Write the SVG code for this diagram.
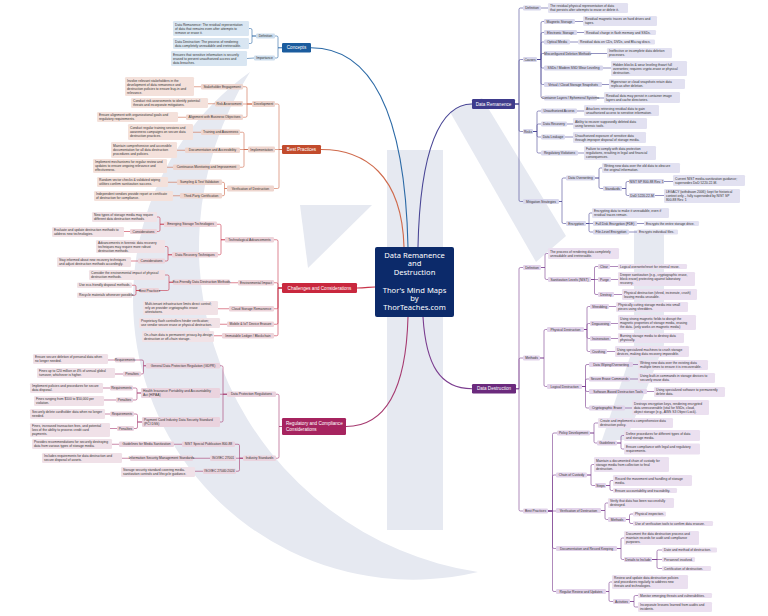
<svg xmlns="http://www.w3.org/2000/svg" width="768" height="616" viewBox="0 0 768 616">
<style>
text{font-family:"Liberation Sans",Arial,sans-serif;font-size:3.3px;fill:#333}
.m{text-anchor:middle}
.w{fill:#fff;font-size:4.6px}
.cen{font-family:"Noto Sans","Open Sans",sans-serif;font-size:7.6px;fill:#fff;text-anchor:middle}
rect{rx:1.2px}
.bl1{fill:#cddded}.bl2{fill:#d9e6f2}
.or1{fill:#eed5ce}.or2{fill:#f4e1db}
.cr1{fill:#edd4da}.cr2{fill:#f1e2e6}
.mg1{fill:#ead3de}.mg2{fill:#f0e1e8}
.pu1{fill:#d8d7ec}.pu2{fill:#e2e1f1}
.vi1{fill:#e2d3ea}.vi2{fill:#ebe0f0}
#connectors path{fill:none;stroke-width:0.6}
.kb{stroke:#2c6aa6}.ko{stroke:#cf6a4c}.kc{stroke:#c8344a}.km{stroke:#a63a70}.kp{stroke:#4a4796}.kv{stroke:#7b3d8f}
.main{stroke-width:1.1!important}
.wm{fill:#e6e9f1}
</style>
<rect x="0" y="0" width="768" height="616" fill="#ffffff" style="rx:0"/>
<g id="watermark">
<path class="wm" d="M250,72 A280,280 0 0 0 478,572 A328,328 0 0 1 250,72 Z"/>
<rect class="wm" x="387" y="150" width="56" height="380" style="rx:0"/>
<polygon class="wm" points="450,112 482,98 566,236 536,262"/>
<polygon class="wm" points="634,230 664,230 664,345 626,440 602,440 634,345"/>
<polygon class="wm" points="300,205 372,205 308,268"/>
</g>
<g id="connectors">
<path class="kb main" d="M408,247 C405,110 370,47.75 311,47.75"/>
<path class="ko main" d="M321,149.5 C365,149.5 402,175 404,247"/>
<path class="kc main" d="M357,288 C365,288 370,287 375,287"/>
<path class="km main" d="M346,426.5 C385,426.5 406,390 408,317"/>
<path class="kp main" d="M418,247 C420,150 440,104 472,104"/>
<path class="kv main" d="M423,317 C426,365 440,388.75 472,388.75"/>
<path class="kb" d="M282,47.75 H278 V37.5 Q278,36 276.5,36 H275 M282,47.75 H278 V56.5 Q278,58 276.5,58 H275 M256,36 H252 V30 Q252,28.5 250.5,28.5 H249 M256,36 H252 V42 Q252,43.5 250.5,43.5 H249 M254,58 L247,58.5"/>
<path class="ko" d="M282,149.5 H279 V105.5 Q279,104 277.5,104 H275 M282,149.5 H275 M282,149.5 H279 V187 Q279,188.5 277.5,188.5 H274 M252,104 H247 V88.25 Q247,86.75 245.5,86.75 H243 M252,104 H243 M252,104 H247 V115.75 Q247,117.25 245.5,117.25 H243 M201,86.75 H194 M215,103.75 H208 M186,117.25 H178 M248,149.5 H244 V133.75 Q244,132.25 242.5,132.25 H240 M248,149.5 H240 M248,149.5 H244 V165.75 Q244,167.25 242.5,167.25 H240 M201,132.25 H193 M185,150.25 H177 M173,167.25 H167 M227,188.5 H224.5 V183.75 Q224.5,182.25 223,182.25 H222 M227,188.5 H224.5 V194.25 Q224.5,195.75 223,195.75 H222 M177,182.25 H168 M180,195.75 H173"/>
<path class="kc" d="M282,288 H278 V241.25 Q278,239.75 276.5,239.75 H274 M282,288 H278 V284.25 Q278,282.75 276.5,282.75 H274 M282,288 H278 V307.25 Q278,308.75 276.5,308.75 H274 M282,288 H278 V322.75 Q278,324.25 276.5,324.25 H274 M282,288 H278 V334.25 Q278,335.75 276.5,335.75 H274 M225,239.75 H221 V225.75 Q221,224.25 219.5,224.25 H217 M225,239.75 H221 V253.25 Q221,254.75 219.5,254.75 H218 M164,224.25 H160 V218.5 Q160,217 158.5,217 H157 M164,224.25 H160 V230 Q160,231.5 158.5,231.5 H157 M130,231.5 H124 M172,254.75 H168 V248 Q168,246.5 166.5,246.5 H165 M172,254.75 H168 V259.5 Q168,261 166.5,261 H165 M138,261 H131 M238,282.75 H230 M173,282.25 H169 V276.5 Q169,275 167.5,275 H165 M173,282.25 H169 V289 Q169,290.5 167.5,290.5 H159 M140,290.5 H136 V286.75 Q136,285.25 134.5,285.25 H132 M140,290.5 H136 V293.75 Q136,295.25 134.5,295.25 H132 M229,308.75 H218 M227,324.25 H220 M222,335.75 H214"/>
<path class="km" d="M282,426.5 H279 V395.75 Q279,394.25 277.5,394.25 H276 M282,426.5 H279 V456.75 Q279,458.25 277.5,458.25 H276 M227,394.25 H223 V367.25 Q223,365.75 221.5,365.75 H220 M227,394.25 H220 M227,394.25 H223 V420.5 Q223,422 221.5,422 H220 M146,365.75 H143.5 V361.5 Q143.5,360 142,360 H135 M146,365.75 H143.5 V372.5 Q143.5,374 142,374 H141 M115,360 H108 M123,374 H115 M141,393 H137 V389.5 Q137,388 135.5,388 H133 M141,393 H137 V398.5 Q137,400 135.5,400 H133 M110,388 H103 M116,400 H104 M142,422 H137.5 V415.5 Q137.5,414 136,414 H134 M142,422 H137.5 V427 Q137.5,428.5 136,428.5 H134 M110,414 H105 M117,428.5 H110 M243,458.25 H239.5 V445.75 Q239.5,444.25 238,444.25 H235 M243,458.25 H236 M243,458.25 H239.5 V469.75 Q239.5,471.25 238,471.25 H236 M182,444.25 H174 M119,444.25 H112 M210,458.25 H193 M130,458.25 H122 M203,471.25 H195"/>
<path class="kp" d="M515,104 H519 V9.5 Q519,8 520.5,8 H523 M515,104 H519 V61 Q519,59.5 520.5,59.5 H523 M515,104 H519 V130 Q519,131.5 520.5,131.5 H523 M515,104 H519 V200 Q519,201.5 520.5,201.5 H523 M541,8 H548 M537,59.5 H541 V23 Q541,21.5 542.5,21.5 H544 M537,59.5 H541 V34 Q541,32.5 542.5,32.5 H544 M537,59.5 H541 V43.5 Q541,42 542.5,42 H544 M537,59.5 H541 V55 Q541,53.5 542.5,53.5 H544 M537,59.5 H541 V66.5 Q541,68 542.5,68 H544 M537,59.5 H541 V83 Q541,84.5 542.5,84.5 H544 M537,59.5 H541 V96.5 Q541,98 542.5,98 H544 M575,21.5 H583 M577,32.5 H584 M570,42 H578 M591,53.5 H607 M603,68 H611 M602,84.5 H609 M597,98 H604 M533,131.5 H537 V112.5 Q537,111 538.5,111 H541 M533,131.5 H537 V125.5 Q537,124 538.5,124 H541 M533,131.5 H537 V135.5 Q537,137 538.5,137 H541 M533,131.5 H537 V151.5 Q537,153 538.5,153 H541 M577,111 H584 M567,124 H573 M565,137 H573 M578,153 H584 M559,201.5 H562 V179.5 Q562,178 563.5,178 H566 M559,201.5 H562 V222 Q562,223.5 563.5,223.5 H566 M595,178 H599 V169.5 Q599,168 600.5,168 H602 M595,178 H599 V187 Q599,188.5 600.5,188.5 H603 M622,188.5 H626 V183 Q626,181.5 627.5,181.5 H629 M622,188.5 H626 V194 Q626,195.5 627.5,195.5 H629 M664,181.5 H673 M655,195.5 H664 M586,223.5 H589 V214.5 Q589,213 590.5,213 H592 M586,223.5 H593 M586,223.5 H589 V230.5 Q589,232 590.5,232 H593 M637,223.5 H644 M629,232 H637"/>
<path class="kv" d="M516,388.75 H519 V269 Q519,267.5 520.5,267.5 H523 M516,388.75 H519 V359.5 Q519,358 520.5,358 H523 M516,388.75 H519 V509.5 Q519,511 520.5,511 H523 M541,267.5 H545 V255 Q545,253.5 546.5,253.5 H548 M541,267.5 H545 V278 Q545,279.5 546.5,279.5 H548 M591,279.5 H594.5 V268 Q594.5,266.5 596,266.5 H598 M591,279.5 H598 M591,279.5 H594.5 V293 Q594.5,294.5 596,294.5 H598 M610,266.5 H618 M611,279.5 H618 M614,294.5 H622 M540,358 H544 V331 Q544,329.5 545.5,329.5 H547 M540,358 H544 V385 Q544,386.5 545.5,386.5 H547 M584,329.5 H587 V308 Q587,306.5 588.5,306.5 H590 M584,329.5 H587 V325 Q587,323.5 588.5,323.5 H590 M584,329.5 H587 V337 Q587,338.5 588.5,338.5 H590 M584,329.5 H587 V350 Q587,351.5 588.5,351.5 H590 M609,306.5 H616 M611,323.5 H618 M611,338.5 H618 M607,351.5 H615 M582,386.5 H585.5 V366 Q585.5,364.5 587,364.5 H589 M582,386.5 H585.5 V380.5 Q585.5,379 587,379 H589 M582,386.5 H585.5 V390 Q585.5,391.5 587,391.5 H589 M582,386.5 H585.5 V406.5 Q585.5,408 587,408 H589 M633,364.5 H638 M630,379 H638 M647,391.5 H654 M625,408 H632 M548,511 H552.5 V434.5 Q552.5,433 554,433 H557 M548,511 H552.5 V476.5 Q552.5,475 554,475 H556 M548,511 H556 M548,511 H552.5 V547 Q552.5,548.5 554,548.5 H556 M548,511 H552.5 V590 Q552.5,591.5 554,591.5 H556 M590,433 H594 V424.5 Q594,423 595.5,423 H598 M590,433 H594 V441.5 Q594,443 595.5,443 H597 M617,443 H621 V437 Q621,435.5 622.5,435.5 H624 M617,443 H621 V447.5 Q621,449 622.5,449 H624 M587,475 H591 V466 Q591,464.5 592.5,464.5 H594 M587,475 H591 V484 Q591,485.5 592.5,485.5 H595 M606,485.5 H610 V482 Q610,480.5 611.5,480.5 H613 M606,485.5 H610 V489 Q610,490.5 611.5,490.5 H613 M601,510.5 H605 V504.5 Q605,503 606.5,503 H608 M601,510.5 H605 V518 Q605,519.5 606.5,519.5 H608 M626,519.5 H629.5 V515.5 Q629.5,514 631,514 H633 M626,519.5 H629.5 V522 Q629.5,523.5 631,523.5 H633 M617,548.5 H621 V539.5 Q621,538 622.5,538 H624 M617,548.5 H621 V558 Q621,559.5 622.5,559.5 H624 M652,559.5 H657 V551.5 Q657,550 658.5,550 H662 M652,559.5 H662 M652,559.5 H657 V567 Q657,568.5 658.5,568.5 H662 M606,591.5 H609 V583.5 Q609,582 610.5,582 H612 M606,591.5 H609 V600 Q609,601.5 610.5,601.5 H613 M630,601.5 H634 V597 Q634,595.5 635.5,595.5 H638 M630,601.5 H634 V605.5 Q634,607 635.5,607 H638"/>
</g>

<g id="center"><rect x="375" y="247" width="79" height="70" fill="#0c2a6a" style="rx:2px"/>
<text class="cen" x="414.5" y="257.5">Data Remanence<tspan x="414.5" dy="8.9">and</tspan><tspan x="414.5" dy="8.9">Destruction</tspan><tspan x="414.5" dy="17.6">Thor's Mind Maps</tspan><tspan x="414.5" dy="8.5">by</tspan><tspan x="414.5" dy="8.5">ThorTeaches.com</tspan></text></g>

<!-- CONCEPTS -->
<g id="concepts"><rect x="282" y="43" width="29" height="9.5" fill="#1b5c9e"/><text class="m w" x="296.5" y="49.35">Concepts</text></g>
<g id="c-definition"><rect class="bl1" x="256" y="33.5" width="19" height="5"/><text class="m" x="265.5" y="37.15">Definition</text></g>
<g id="c-importance"><rect class="bl1" x="254" y="55.5" width="21" height="5"/><text class="m" x="264.5" y="59.15">Importance</text></g>
<g id="c-def-dr"><rect class="bl2" x="173" y="21" width="76" height="15"/><text x="175" y="25.75">Data Remanence: The residual representation<tspan x="175" dy="3.9">of data that remains even after attempts to</tspan><tspan x="175" dy="3.9">remove or erase it.</tspan></text></g>
<g id="c-def-dd"><rect class="bl2" x="173" y="38" width="76" height="11"/><text x="175" y="42.7">Data Destruction: The process of rendering<tspan x="175" dy="3.9">data completely unreadable and irretrievable.</tspan></text></g>
<g id="c-imp-leaf"><rect class="bl2" x="171" y="51" width="76" height="15"/><text x="173" y="55.75">Ensures that sensitive information is securely<tspan x="173" dy="3.9">erased to prevent unauthorized access and</tspan><tspan x="173" dy="3.9">data breaches.</tspan></text></g>

<!-- BEST PRACTICES -->
<g id="best-practices"><rect x="282" y="145" width="39" height="9" fill="#c24b2c"/><text class="m w" x="301.5" y="151.1">Best Practices</text></g>
<g id="bp-development"><rect class="or1" x="252" y="101" width="23" height="6"/><text class="m" x="263.5" y="105.15">Development</text></g>
<g id="bp-implementation"><rect class="or1" x="248" y="146.5" width="27" height="6"/><text class="m" x="261.5" y="150.65">Implementation</text></g>
<g id="bp-verification"><rect class="or1" x="227" y="185.5" width="47" height="6"/><text class="m" x="250.5" y="189.65">Verification of Destruction</text></g>
<g id="bp-stakeholder"><rect class="or1" x="201" y="84" width="42" height="5.5"/><text class="m" x="222" y="87.9">Stakeholder Engagement</text></g>
<g id="bp-risk"><rect class="or1" x="215" y="101" width="28" height="5.5"/><text class="m" x="229" y="104.9">Risk Assessment</text></g>
<g id="bp-alignment"><rect class="or1" x="186" y="114.5" width="57" height="5.5"/><text class="m" x="214.5" y="118.4">Alignment with Business Objectives</text></g>
<g id="bp-stakeholder-leaf"><rect class="or2" x="125" y="77" width="69" height="19"/><text x="127" y="81.8">Involve relevant stakeholders in the<tspan x="127" dy="3.9">development of data remanence and</tspan><tspan x="127" dy="3.9">destruction policies to ensure buy-in and</tspan><tspan x="127" dy="3.9">relevance.</tspan></text></g>
<g id="bp-risk-leaf"><rect class="or2" x="131" y="98" width="77" height="10"/><text x="133" y="102.2">Conduct risk assessments to identify potential<tspan x="133" dy="3.9">threats and incorporate mitigations.</tspan></text></g>
<g id="bp-alignment-leaf"><rect class="or2" x="97" y="112" width="81" height="10"/><text x="99" y="116.2">Ensure alignment with organizational goals and<tspan x="99" dy="3.9">regulatory requirements.</tspan></text></g>
<g id="bp-training"><rect class="or1" x="201" y="129.5" width="39" height="5.5"/><text class="m" x="220.5" y="133.4">Training and Awareness</text></g>
<g id="bp-documentation"><rect class="or1" x="185" y="147.5" width="55" height="5.5"/><text class="m" x="212.5" y="151.4">Documentation and Accessibility</text></g>
<g id="bp-continuous"><rect class="or1" x="173" y="164.5" width="67" height="5.5"/><text class="m" x="206.5" y="168.4">Continuous Monitoring and Improvement</text></g>
<g id="bp-training-leaf"><rect class="or2" x="128" y="124" width="65" height="16"/><text x="130" y="129.25">Conduct regular training sessions and<tspan x="130" dy="3.9">awareness campaigns on secure data</tspan><tspan x="130" dy="3.9">destruction practices.</tspan></text></g>
<g id="bp-documentation-leaf"><rect class="or2" x="111" y="142" width="66" height="16"/><text x="113" y="147.25">Maintain comprehensive and accessible<tspan x="113" dy="3.9">documentation for all data destruction</tspan><tspan x="113" dy="3.9">procedures and policies.</tspan></text></g>
<g id="bp-continuous-leaf"><rect class="or2" x="93" y="159" width="74" height="14"/><text x="95" y="163.25">Implement mechanisms for regular review and<tspan x="95" dy="3.9">updates to ensure ongoing relevance and</tspan><tspan x="95" dy="3.9">effectiveness.</tspan></text></g>
<g id="bp-sampling"><rect class="or1" x="177" y="179.5" width="45" height="5.5"/><text class="m" x="199.5" y="183.4">Sampling &amp; Test Validation</text></g>
<g id="bp-thirdparty"><rect class="or1" x="180" y="193" width="42" height="5.5"/><text class="m" x="201" y="196.9">Third-Party Certification</text></g>
<g id="bp-sampling-leaf"><rect class="or2" x="97" y="177" width="71" height="10"/><text x="99" y="181.2">Random vector checks &amp; validated wiping<tspan x="99" dy="3.9">utilities confirm sanitization success.</tspan></text></g>
<g id="bp-thirdparty-leaf"><rect class="or2" x="94" y="191" width="79" height="10"/><text x="96" y="195.2">Independent vendors provide report or certificate<tspan x="96" dy="3.9">of destruction for compliance.</tspan></text></g>

<!-- CHALLENGES -->
<g id="challenges"><rect x="282" y="283" width="75" height="10" fill="#c9283e"/><text class="m w" x="319.5" y="289.6">Challenges and Considerations</text></g>
<g id="ch-tech"><rect class="cr1" x="225" y="237" width="49" height="5.5"/><text class="m" x="249.5" y="240.9">Technological Advancements</text></g>
<g id="ch-env"><rect class="cr1" x="238" y="280" width="36" height="5.5"/><text class="m" x="256" y="283.9">Environmental Impact</text></g>
<g id="ch-cloud"><rect class="cr1" x="229" y="306" width="45" height="5.5"/><text class="m" x="251.5" y="309.9">Cloud Storage Remanence</text></g>
<g id="ch-mobile"><rect class="cr1" x="227" y="321.5" width="47" height="5.5"/><text class="m" x="250.5" y="325.4">Mobile &amp; IoT Device Erasure</text></g>
<g id="ch-ledger"><rect class="cr1" x="222" y="333" width="52" height="5.5"/><text class="m" x="248" y="336.9">Immutable Ledger / Blockchain</text></g>
<g id="ch-emerging"><rect class="cr1" x="164" y="221.5" width="53" height="5.5"/><text class="m" x="190.5" y="225.4">Emerging Storage Technologies</text></g>
<g id="ch-emerging-leaf"><rect class="cr2" x="92" y="212" width="65" height="10"/><text x="94" y="216.2">New types of storage media may require<tspan x="94" dy="3.9">different data destruction methods.</tspan></text></g>
<g id="ch-cons1"><rect class="cr1" x="130" y="229" width="27" height="5"/><text class="m" x="143.5" y="232.65">Considerations</text></g>
<g id="ch-cons1-leaf"><rect class="cr2" x="52" y="227" width="72" height="10"/><text x="54" y="231.2">Evaluate and update destruction methods to<tspan x="54" dy="3.9">address new technologies.</tspan></text></g>
<g id="ch-recovery"><rect class="cr1" x="172" y="252" width="46" height="5.5"/><text class="m" x="195" y="255.9">Data Recovery Techniques</text></g>
<g id="ch-recovery-leaf"><rect class="cr2" x="96" y="240" width="69" height="13"/><text x="98" y="243.75">Advancements in forensic data recovery<tspan x="98" dy="3.9">techniques may require more robust</tspan><tspan x="98" dy="3.9">destruction methods.</tspan></text></g>
<g id="ch-cons2"><rect class="cr1" x="138" y="258.5" width="27" height="5"/><text class="m" x="151.5" y="262.15">Considerations</text></g>
<g id="ch-cons2-leaf"><rect class="cr2" x="57" y="257" width="74" height="10"/><text x="59" y="261.2">Stay informed about new recovery techniques<tspan x="59" dy="3.9">and adjust destruction methods accordingly.</tspan></text></g>
<g id="ch-eco"><rect class="cr1" x="173" y="279.5" width="57" height="5.5"/><text class="m" x="201.5" y="283.4">Eco-Friendly Data Destruction Methods</text></g>
<g id="ch-eco-leaf"><rect class="cr2" x="89" y="270" width="76" height="10"/><text x="91" y="274.2">Consider the environmental impact of physical<tspan x="91" dy="3.9">destruction methods.</tspan></text></g>
<g id="ch-bestpr"><rect class="cr1" x="140" y="288" width="19" height="5"/><text class="m" x="149.5" y="291.65">Best Practices</text></g>
<g id="ch-use"><rect class="cr2" x="77" y="282.5" width="55" height="5.5"/><text x="79" y="286.4">Use eco-friendly disposal methods.</text></g>
<g id="ch-recycle"><rect class="cr2" x="77" y="292.5" width="55" height="5.5"/><text x="79" y="296.4">Recycle materials whenever possible.</text></g>
<g id="ch-cloud-leaf"><rect class="cr2" x="143" y="301" width="75" height="14"/><text x="145" y="305.25">Multi-tenant infrastructure limits direct control;<tspan x="145" dy="3.9">rely on provider cryptographic erase</tspan><tspan x="145" dy="3.9">attestations.</tspan></text></g>
<g id="ch-mobile-leaf"><rect class="cr2" x="139" y="318" width="81" height="10"/><text x="141" y="322.2">Proprietary flash controllers hinder verification;<tspan x="141" dy="3.9">use vendor secure erase or physical destruction.</tspan></text></g>
<g id="ch-ledger-leaf"><rect class="cr2" x="142" y="331" width="72" height="11"/><text x="144" y="335.7">On-chain data is permanent; privacy-by-design<tspan x="144" dy="3.9">destruction or off-chain storage.</tspan></text></g>

<!-- REGULATORY -->
<g id="regulatory"><rect x="282" y="418" width="64" height="17" fill="#a6245f"/><text class="w" x="286" y="425.35">Regulatory and Compliance<tspan x="286" dy="5.5">Considerations</tspan></text></g>
<g id="rg-dpr"><rect class="mg1" x="227" y="391.5" width="49" height="5.5"/><text class="m" x="251.5" y="395.4">Data Protection Regulations</text></g>
<g id="rg-is"><rect class="mg1" x="243" y="455.5" width="33" height="5.5"/><text class="m" x="259.5" y="459.4">Industry Standards</text></g>
<g id="rg-gdpr"><rect class="mg1" x="146" y="363" width="74" height="5.5"/><text class="m" x="183" y="366.9">General Data Protection Regulation (GDPR)</text></g>
<g id="rg-hipaa"><rect class="mg1" x="141" y="388" width="79" height="10"/><text x="143" y="392.2">Health Insurance Portability and Accountability<tspan x="143" dy="3.9">Act (HIPAA)</tspan></text></g>
<g id="rg-pci"><rect class="mg1" x="142" y="417" width="78" height="10"/><text x="144" y="421.2">Payment Card Industry Data Security Standard<tspan x="144" dy="3.9">(PCI DSS)</tspan></text></g>
<g id="rg-req1"><rect class="mg1" x="115" y="357.5" width="20" height="5"/><text class="m" x="125" y="361.15">Requirements</text></g>
<g id="rg-pen1"><rect class="mg1" x="123" y="371.5" width="18" height="5"/><text class="m" x="132" y="375.15">Penalties</text></g>
<g id="rg-req1-leaf"><rect class="mg2" x="33" y="354" width="75" height="10"/><text x="35" y="358.2">Ensure secure deletion of personal data when<tspan x="35" dy="3.9">no longer needed.</tspan></text></g>
<g id="rg-pen1-leaf"><rect class="mg2" x="37" y="368" width="78" height="10"/><text x="39" y="372.2">Fines up to €20 million or 4% of annual global<tspan x="39" dy="3.9">turnover, whichever is higher.</tspan></text></g>
<g id="rg-req2"><rect class="mg1" x="110" y="385.5" width="23" height="5"/><text class="m" x="121.5" y="389.15">Requirements</text></g>
<g id="rg-pen2"><rect class="mg1" x="116" y="397.5" width="17" height="5"/><text class="m" x="124.5" y="401.15">Penalties</text></g>
<g id="rg-req2-leaf"><rect class="mg2" x="30" y="383" width="73" height="10"/><text x="32" y="387.2">Implement policies and procedures for secure<tspan x="32" dy="3.9">data disposal.</tspan></text></g>
<g id="rg-pen2-leaf"><rect class="mg2" x="34" y="396" width="70" height="10"/><text x="36" y="400.2">Fines ranging from $100 to $50,000 per<tspan x="36" dy="3.9">violation.</tspan></text></g>
<g id="rg-req3"><rect class="mg1" x="110" y="411.5" width="24" height="5"/><text class="m" x="122" y="415.15">Requirements</text></g>
<g id="rg-pen3"><rect class="mg1" x="117" y="426" width="17" height="5"/><text class="m" x="125.5" y="429.65">Penalties</text></g>
<g id="rg-req3-leaf"><rect class="mg2" x="30" y="409" width="75" height="10"/><text x="32" y="413.2">Securely delete cardholder data when no longer<tspan x="32" dy="3.9">needed.</tspan></text></g>
<g id="rg-pen3-leaf"><rect class="mg2" x="30" y="423" width="80" height="14"/><text x="32" y="427.25">Fines, increased transaction fees, and potential<tspan x="32" dy="3.9">loss of the ability to process credit card</tspan><tspan x="32" dy="3.9">payments.</tspan></text></g>
<g id="rg-nist"><rect class="mg1" x="182" y="441.5" width="53" height="5.5"/><text class="m" x="208.5" y="445.4">NIST Special Publication 800-88</text></g>
<g id="rg-guidelines"><rect class="mg1" x="119" y="441.5" width="55" height="5.5"/><text class="m" x="146.5" y="445.4">Guidelines for Media Sanitization</text></g>
<g id="rg-guidelines-leaf"><rect class="mg2" x="32" y="439" width="80" height="10"/><text x="34" y="443.2">Provides recommendations for securely destroying<tspan x="34" dy="3.9">data from various types of storage media.</tspan></text></g>
<g id="rg-iso27001"><rect class="mg1" x="210" y="455.5" width="26" height="5.5"/><text class="m" x="223" y="459.4">ISO/IEC 27001</text></g>
<g id="rg-infosec"><rect class="mg1" x="130" y="455.5" width="63" height="5.5"/><text class="m" x="161.5" y="459.4">Information Security Management Standards</text></g>
<g id="rg-infosec-leaf"><rect class="mg2" x="42" y="453" width="80" height="10"/><text x="44" y="457.2">Includes requirements for data destruction and<tspan x="44" dy="3.9">secure disposal of assets.</tspan></text></g>
<g id="rg-iso27040"><rect class="mg1" x="203" y="468.5" width="33" height="5.5"/><text class="m" x="219.5" y="472.4">ISO/IEC 27040:2024</text></g>
<g id="rg-iso27040-leaf"><rect class="mg2" x="121" y="467" width="74" height="10"/><text x="123" y="471.2">Storage security standard covering media-<tspan x="123" dy="3.9">sanitization controls and lifecycle guidance.</tspan></text></g>

<!-- DATA REMANENCE -->
<g id="data-remanence"><rect x="472" y="99" width="43" height="10" fill="#3e3b8c"/><text class="m w" x="493.5" y="105.6">Data Remanence</text></g>
<g id="dr-definition"><rect class="pu1" x="523" y="5.5" width="18" height="5"/><text class="m" x="532" y="9.15">Definition</text></g>
<g id="dr-definition-leaf"><rect class="pu2" x="548" y="3" width="80" height="10"/><text x="550" y="7.2">The residual physical representation of data<tspan x="550" dy="3.9">that persists after attempts to erase or delete it.</tspan></text></g>
<g id="dr-causes"><rect class="pu1" x="523" y="57" width="14" height="5"/><text class="m" x="530" y="60.65">Causes</text></g>
<g id="dr-magnetic"><rect class="pu1" x="544" y="19" width="31" height="5"/><text class="m" x="559.5" y="22.65">Magnetic Storage</text></g>
<g id="dr-electronic"><rect class="pu1" x="544" y="30" width="33" height="5"/><text class="m" x="560.5" y="33.65">Electronic Storage</text></g>
<g id="dr-optical"><rect class="pu1" x="544" y="39.5" width="26" height="5"/><text class="m" x="557" y="43.15">Optical Media</text></g>
<g id="dr-misconf"><rect class="pu1" x="544" y="51" width="47" height="5"/><text class="m" x="567.5" y="54.65">Misconfigured Deletion Methods</text></g>
<g id="dr-ssd"><rect class="pu1" x="544" y="65.5" width="59" height="5"/><text class="m" x="573.5" y="69.15">SSDs / Modern SSD Wear Leveling</text></g>
<g id="dr-virtual"><rect class="pu1" x="544" y="82" width="58" height="5"/><text class="m" x="573" y="85.65">Virtual / Cloud Storage Snapshots</text></g>
<g id="dr-container"><rect class="pu1" x="544" y="95.5" width="53" height="5"/><text class="m" x="570.5" y="99.15">Container Layers / Ephemeral Systems</text></g>
<g id="dr-magnetic-leaf"><rect class="pu2" x="583" y="16" width="74" height="10"/><text x="585" y="20.2">Residual magnetic traces on hard drives and<tspan x="585" dy="3.9">tapes.</tspan></text></g>
<g id="dr-electronic-leaf"><rect class="pu2" x="584" y="30" width="72" height="5"/><text x="586" y="33.65">Residual charge in flash memory and SSDs.</text></g>
<g id="dr-optical-leaf"><rect class="pu2" x="578" y="39.5" width="77" height="5"/><text x="580" y="43.15">Residual data on CDs, DVDs, and Blu-ray discs.</text></g>
<g id="dr-misconf-leaf"><rect class="pu2" x="607" y="48" width="65" height="10"/><text x="609" y="52.2">Ineffective or incomplete data deletion<tspan x="609" dy="3.9">processes.</tspan></text></g>
<g id="dr-ssd-leaf"><rect class="pu2" x="611" y="61" width="76" height="15"/><text x="613" y="65.75">Hidden blocks &amp; wear leveling thwart full<tspan x="613" dy="3.9">overwrites; requires crypto-erase or physical</tspan><tspan x="613" dy="3.9">destruction.</tspan></text></g>
<g id="dr-virtual-leaf"><rect class="pu2" x="609" y="79" width="76" height="10"/><text x="611" y="83.2">Hypervisor or cloud snapshots retain data<tspan x="611" dy="3.9">replicas after deletion.</tspan></text></g>
<g id="dr-container-leaf"><rect class="pu2" x="604" y="92" width="76" height="11"/><text x="606" y="96.7">Residual data may persist in container image<tspan x="606" dy="3.9">layers and cache directories.</tspan></text></g>
<g id="dr-risks"><rect class="pu1" x="523" y="129" width="10" height="5"/><text class="m" x="528" y="132.65">Risks</text></g>
<g id="dr-unauth"><rect class="pu1" x="541" y="108.5" width="36" height="5"/><text class="m" x="559" y="112.15">Unauthorized Access</text></g>
<g id="dr-recovery"><rect class="pu1" x="541" y="121.5" width="26" height="5"/><text class="m" x="554" y="125.15">Data Recovery</text></g>
<g id="dr-leakage"><rect class="pu1" x="541" y="134.5" width="24" height="5"/><text class="m" x="553" y="138.15">Data Leakage</text></g>
<g id="dr-regviol"><rect class="pu1" x="541" y="150.5" width="37" height="5"/><text class="m" x="559.5" y="154.15">Regulatory Violations</text></g>
<g id="dr-unauth-leaf"><rect class="pu2" x="584" y="105" width="75" height="11"/><text x="586" y="109.7">Attackers retrieving residual data to gain<tspan x="586" dy="3.9">unauthorized access to sensitive information.</tspan></text></g>
<g id="dr-recovery-leaf"><rect class="pu2" x="573" y="118" width="74" height="11"/><text x="575" y="122.7">Ability to recover supposedly deleted data<tspan x="575" dy="3.9">using forensic tools.</tspan></text></g>
<g id="dr-leakage-leaf"><rect class="pu2" x="573" y="132" width="73" height="11"/><text x="575" y="136.7">Unauthorized exposure of sensitive data<tspan x="575" dy="3.9">through improper disposal of storage media.</tspan></text></g>
<g id="dr-regviol-leaf"><rect class="pu2" x="584" y="146" width="72" height="14"/><text x="586" y="150.25">Failure to comply with data protection<tspan x="586" dy="3.9">regulations, resulting in legal and financial</tspan><tspan x="586" dy="3.9">consequences.</tspan></text></g>
<g id="dr-mitigation"><rect class="pu1" x="523" y="199" width="36" height="5"/><text class="m" x="541" y="202.65">Mitigation Strategies</text></g>
<g id="dr-overwriting"><rect class="pu1" x="566" y="175.5" width="29" height="5"/><text class="m" x="580.5" y="179.15">Data Overwriting</text></g>
<g id="dr-overwriting-leaf"><rect class="pu2" x="602" y="163" width="78" height="10"/><text x="604" y="167.2">Writing new data over the old data to obscure<tspan x="604" dy="3.9">the original information.</tspan></text></g>
<g id="dr-standards"><rect class="pu1" x="603" y="186" width="19" height="5"/><text class="m" x="612.5" y="189.65">Standards</text></g>
<g id="dr-nist"><rect class="pu1" x="629" y="179" width="35" height="5"/><text class="m" x="646.5" y="182.65">NIST SP 800-88 Rev. 1</text></g>
<g id="dr-nist-leaf"><rect class="pu2" x="673" y="175" width="72" height="11"/><text x="675" y="179.7">Current NIST media-sanitization guidance;<tspan x="675" dy="3.9">supersedes DoD 5220.22-M.</tspan></text></g>
<g id="dr-dod"><rect class="pu1" x="629" y="193" width="26" height="5"/><text class="m" x="642" y="196.65">DoD 5220.22-M</text></g>
<g id="dr-dod-leaf"><rect class="pu2" x="664" y="189" width="76" height="14"/><text x="666" y="193.25">LEGACY (withdrawn 2006); kept for historical<tspan x="666" dy="3.9">context only – fully superseded by NIST SP</tspan><tspan x="666" dy="3.9">800-88 Rev. 1</tspan></text></g>
<g id="dr-encryption"><rect class="pu1" x="566" y="221" width="20" height="5"/><text class="m" x="576" y="224.65">Encryption</text></g>
<g id="dr-encryption-leaf"><rect class="pu2" x="592" y="208" width="77" height="10"/><text x="594" y="212.2">Encrypting data to make it unreadable, even if<tspan x="594" dy="3.9">residual traces remain.</tspan></text></g>
<g id="dr-fde"><rect class="pu1" x="593" y="221" width="44" height="5"/><text class="m" x="615" y="224.65">Full Disk Encryption (FDE)</text></g>
<g id="dr-fde-leaf"><rect class="pu2" x="644" y="221" width="55" height="5"/><text x="646" y="224.65">Encrypts the entire storage drive.</text></g>
<g id="dr-fle"><rect class="pu1" x="593" y="229.5" width="36" height="5"/><text class="m" x="611" y="233.15">File-Level Encryption</text></g>
<g id="dr-fle-leaf"><rect class="pu2" x="637" y="229.5" width="41" height="5"/><text x="639" y="233.15">Encrypts individual files.</text></g>

<!-- DATA DESTRUCTION -->
<g id="data-destruction"><rect x="472" y="384" width="44" height="9.5" fill="#6b2a7d"/><text class="m w" x="494" y="390.4">Data Destruction</text></g>
<g id="dd-definition"><rect class="vi1" x="523" y="265" width="18" height="5"/><text class="m" x="532" y="268.65">Definition</text></g>
<g id="dd-definition-leaf"><rect class="vi2" x="548" y="248" width="71" height="11"/><text x="550" y="252.7">The process of rendering data completely<tspan x="550" dy="3.9">unreadable and irretrievable.</tspan></text></g>
<g id="dd-sanlev"><rect class="vi1" x="548" y="277" width="43" height="5"/><text class="m" x="569.5" y="280.65">Sanitization Levels (NIST)</text></g>
<g id="dd-clear"><rect class="vi1" x="598" y="264" width="12" height="5"/><text class="m" x="604" y="267.65">Clear</text></g>
<g id="dd-clear-leaf"><rect class="vi2" x="618" y="264" width="69" height="5"/><text x="620" y="267.65">Logical overwrite/reset for internal reuse.</text></g>
<g id="dd-purge"><rect class="vi1" x="598" y="277" width="13" height="5"/><text class="m" x="604.5" y="280.65">Purge</text></g>
<g id="dd-purge-leaf"><rect class="vi2" x="618" y="272" width="77" height="14"/><text x="620" y="276.25">Deeper sanitization (e.g., cryptographic erase,<tspan x="620" dy="3.9">block erase) protecting against laboratory</tspan><tspan x="620" dy="3.9">recovery.</tspan></text></g>
<g id="dd-destroy"><rect class="vi1" x="598" y="292" width="16" height="5"/><text class="m" x="606" y="295.65">Destroy</text></g>
<g id="dd-destroy-leaf"><rect class="vi2" x="622" y="289" width="75" height="11"/><text x="624" y="293.7">Physical destruction (shred, incinerate, crush)<tspan x="624" dy="3.9">leaving media unusable.</tspan></text></g>
<g id="dd-methods"><rect class="vi1" x="523" y="355.5" width="17" height="5"/><text class="m" x="531.5" y="359.15">Methods</text></g>
<g id="dd-physical"><rect class="vi1" x="547" y="327" width="37" height="5"/><text class="m" x="565.5" y="330.65">Physical Destruction</text></g>
<g id="dd-shredding"><rect class="vi1" x="590" y="304" width="19" height="5"/><text class="m" x="599.5" y="307.65">Shredding</text></g>
<g id="dd-shredding-leaf"><rect class="vi2" x="616" y="302" width="72" height="10"/><text x="618" y="306.2">Physically cutting storage media into small<tspan x="618" dy="3.9">pieces using shredders.</tspan></text></g>
<g id="dd-degaussing"><rect class="vi1" x="590" y="321" width="21" height="5"/><text class="m" x="600.5" y="324.65">Degaussing</text></g>
<g id="dd-degaussing-leaf"><rect class="vi2" x="618" y="315" width="78" height="15"/><text x="620" y="319.75">Using strong magnetic fields to disrupt the<tspan x="620" dy="3.9">magnetic properties of storage media, erasing</tspan><tspan x="620" dy="3.9">the data. (only works on magnetic media)</tspan></text></g>
<g id="dd-incineration"><rect class="vi1" x="590" y="336" width="21" height="5"/><text class="m" x="600.5" y="339.65">Incineration</text></g>
<g id="dd-incineration-leaf"><rect class="vi2" x="618" y="333" width="66" height="10"/><text x="620" y="337.2">Burning storage media to destroy data<tspan x="620" dy="3.9">physically.</tspan></text></g>
<g id="dd-crushing"><rect class="vi1" x="590" y="349" width="17" height="5"/><text class="m" x="598.5" y="352.65">Crushing</text></g>
<g id="dd-crushing-leaf"><rect class="vi2" x="615" y="346" width="74" height="11"/><text x="617" y="350.7">Using specialized machines to crush storage<tspan x="617" dy="3.9">devices, making data recovery impossible.</tspan></text></g>
<g id="dd-logical"><rect class="vi1" x="547" y="384" width="35" height="5"/><text class="m" x="564.5" y="387.65">Logical Destruction</text></g>
<g id="dd-wiping"><rect class="vi1" x="589" y="362" width="44" height="5"/><text class="m" x="611" y="365.65">Data Wiping/Overwriting</text></g>
<g id="dd-wiping-leaf"><rect class="vi2" x="638" y="360" width="70" height="10"/><text x="640" y="364.2">Writing new data over the existing data<tspan x="640" dy="3.9">multiple times to ensure it is irrecoverable.</tspan></text></g>
<g id="dd-secure-erase"><rect class="vi1" x="589" y="376.5" width="41" height="5"/><text class="m" x="609.5" y="380.15">Secure Erase Commands</text></g>
<g id="dd-secure-erase-leaf"><rect class="vi2" x="638" y="373" width="77" height="10"/><text x="640" y="377.2">Using built-in commands in storage devices to<tspan x="640" dy="3.9">securely erase data.</tspan></text></g>
<g id="dd-software"><rect class="vi1" x="589" y="389" width="58" height="5"/><text class="m" x="618" y="392.65">Software-Based Destruction Tools</text></g>
<g id="dd-software-leaf"><rect class="vi2" x="654" y="387" width="71" height="10"/><text x="656" y="391.2">Using specialized software to permanently<tspan x="656" dy="3.9">delete data.</tspan></text></g>
<g id="dd-crypto"><rect class="vi1" x="589" y="405.5" width="36" height="5"/><text class="m" x="607" y="409.15">Cryptographic Erase</text></g>
<g id="dd-crypto-leaf"><rect class="vi2" x="632" y="400" width="77" height="15"/><text x="634" y="404.75">Destroys encryption keys, rendering encrypted<tspan x="634" dy="3.9">data unrecoverable (vital for SSDs, cloud,</tspan><tspan x="634" dy="3.9">object storage (e.g., AWS S3 Object Lock).</tspan></text></g>
<g id="dd-bestpractices"><rect class="vi1" x="523" y="508.5" width="25" height="5"/><text class="m" x="535.5" y="512.15">Best Practices</text></g>
<g id="dd-policy"><rect class="vi1" x="557" y="430.5" width="33" height="5"/><text class="m" x="573.5" y="434.15">Policy Development</text></g>
<g id="dd-policy-leaf"><rect class="vi2" x="598" y="418" width="75" height="10"/><text x="600" y="422.2">Create and implement a comprehensive data<tspan x="600" dy="3.9">destruction policy.</tspan></text></g>
<g id="dd-guidelines"><rect class="vi1" x="597" y="440.5" width="20" height="5"/><text class="m" x="607" y="444.15">Guidelines</text></g>
<g id="dd-guide1"><rect class="vi2" x="624" y="430" width="76" height="11"/><text x="626" y="434.7">Define procedures for different types of data<tspan x="626" dy="3.9">and storage media.</tspan></text></g>
<g id="dd-guide2"><rect class="vi2" x="624" y="443.5" width="76" height="11"/><text x="626" y="448.2">Ensure compliance with legal and regulatory<tspan x="626" dy="3.9">requirements.</tspan></text></g>
<g id="dd-chain"><rect class="vi1" x="556" y="472.5" width="31" height="5"/><text class="m" x="571.5" y="476.15">Chain of Custody</text></g>
<g id="dd-chain-leaf"><rect class="vi2" x="594" y="457" width="75" height="15"/><text x="596" y="461.75">Maintain a documented chain of custody for<tspan x="596" dy="3.9">storage media from collection to final</tspan><tspan x="596" dy="3.9">destruction.</tspan></text></g>
<g id="dd-steps"><rect class="vi1" x="595" y="483" width="11" height="5"/><text class="m" x="600.5" y="486.65">Steps</text></g>
<g id="dd-step1"><rect class="vi2" x="613" y="475" width="79" height="11"/><text x="615" y="479.7">Record the movement and handling of storage<tspan x="615" dy="3.9">media.</tspan></text></g>
<g id="dd-step2"><rect class="vi2" x="613" y="488" width="64" height="5"/><text x="615" y="491.65">Ensure accountability and traceability.</text></g>
<g id="dd-verification"><rect class="vi1" x="556" y="508" width="45" height="5"/><text class="m" x="578.5" y="511.65">Verification of Destruction</text></g>
<g id="dd-verification-leaf"><rect class="vi2" x="608" y="498" width="66" height="10"/><text x="610" y="502.2">Verify that data has been successfully<tspan x="610" dy="3.9">destroyed.</tspan></text></g>
<g id="dd-vmethods"><rect class="vi1" x="608" y="517" width="18" height="5"/><text class="m" x="617" y="520.65">Methods</text></g>
<g id="dd-v1"><rect class="vi2" x="633" y="511.5" width="33" height="5"/><text x="635" y="515.15">Physical inspection.</text></g>
<g id="dd-v2"><rect class="vi2" x="633" y="521" width="80" height="5"/><text x="635" y="524.65">Use of verification tools to confirm data erasure.</text></g>
<g id="dd-docrec"><rect class="vi1" x="556" y="546" width="61" height="5"/><text class="m" x="586.5" y="549.65">Documentation and Record Keeping</text></g>
<g id="dd-docrec-leaf"><rect class="vi2" x="624" y="531" width="75" height="14"/><text x="626" y="535.25">Document the data destruction process and<tspan x="626" dy="3.9">maintain records for audit and compliance</tspan><tspan x="626" dy="3.9">purposes.</tspan></text></g>
<g id="dd-details"><rect class="vi1" x="624" y="557" width="28" height="5"/><text class="m" x="638" y="560.65">Details to Include</text></g>
<g id="dd-d1"><rect class="vi2" x="662" y="547.5" width="55" height="5"/><text x="664" y="551.15">Date and method of destruction.</text></g>
<g id="dd-d2"><rect class="vi2" x="662" y="557" width="33" height="5"/><text x="664" y="560.65">Personnel involved.</text></g>
<g id="dd-d3"><rect class="vi2" x="662" y="566" width="49" height="5"/><text x="664" y="569.65">Certification of destruction.</text></g>
<g id="dd-review"><rect class="vi1" x="556" y="589" width="50" height="5"/><text class="m" x="581" y="592.65">Regular Review and Updates</text></g>
<g id="dd-review-leaf"><rect class="vi2" x="612" y="575" width="76" height="14"/><text x="614" y="579.25">Review and update data destruction policies<tspan x="614" dy="3.9">and procedures regularly to address new</tspan><tspan x="614" dy="3.9">threats and technologies.</tspan></text></g>
<g id="dd-activities"><rect class="vi1" x="613" y="599" width="17" height="5"/><text class="m" x="621.5" y="602.65">Activities</text></g>
<g id="dd-a1"><rect class="vi2" x="638" y="593" width="74" height="5"/><text x="640" y="596.65">Monitor emerging threats and vulnerabilities.</text></g>
<g id="dd-a2"><rect class="vi2" x="638" y="602" width="74" height="10"/><text x="640" y="606.2">Incorporate lessons learned from audits and<tspan x="640" dy="3.9">incidents.</tspan></text></g>
</svg>
